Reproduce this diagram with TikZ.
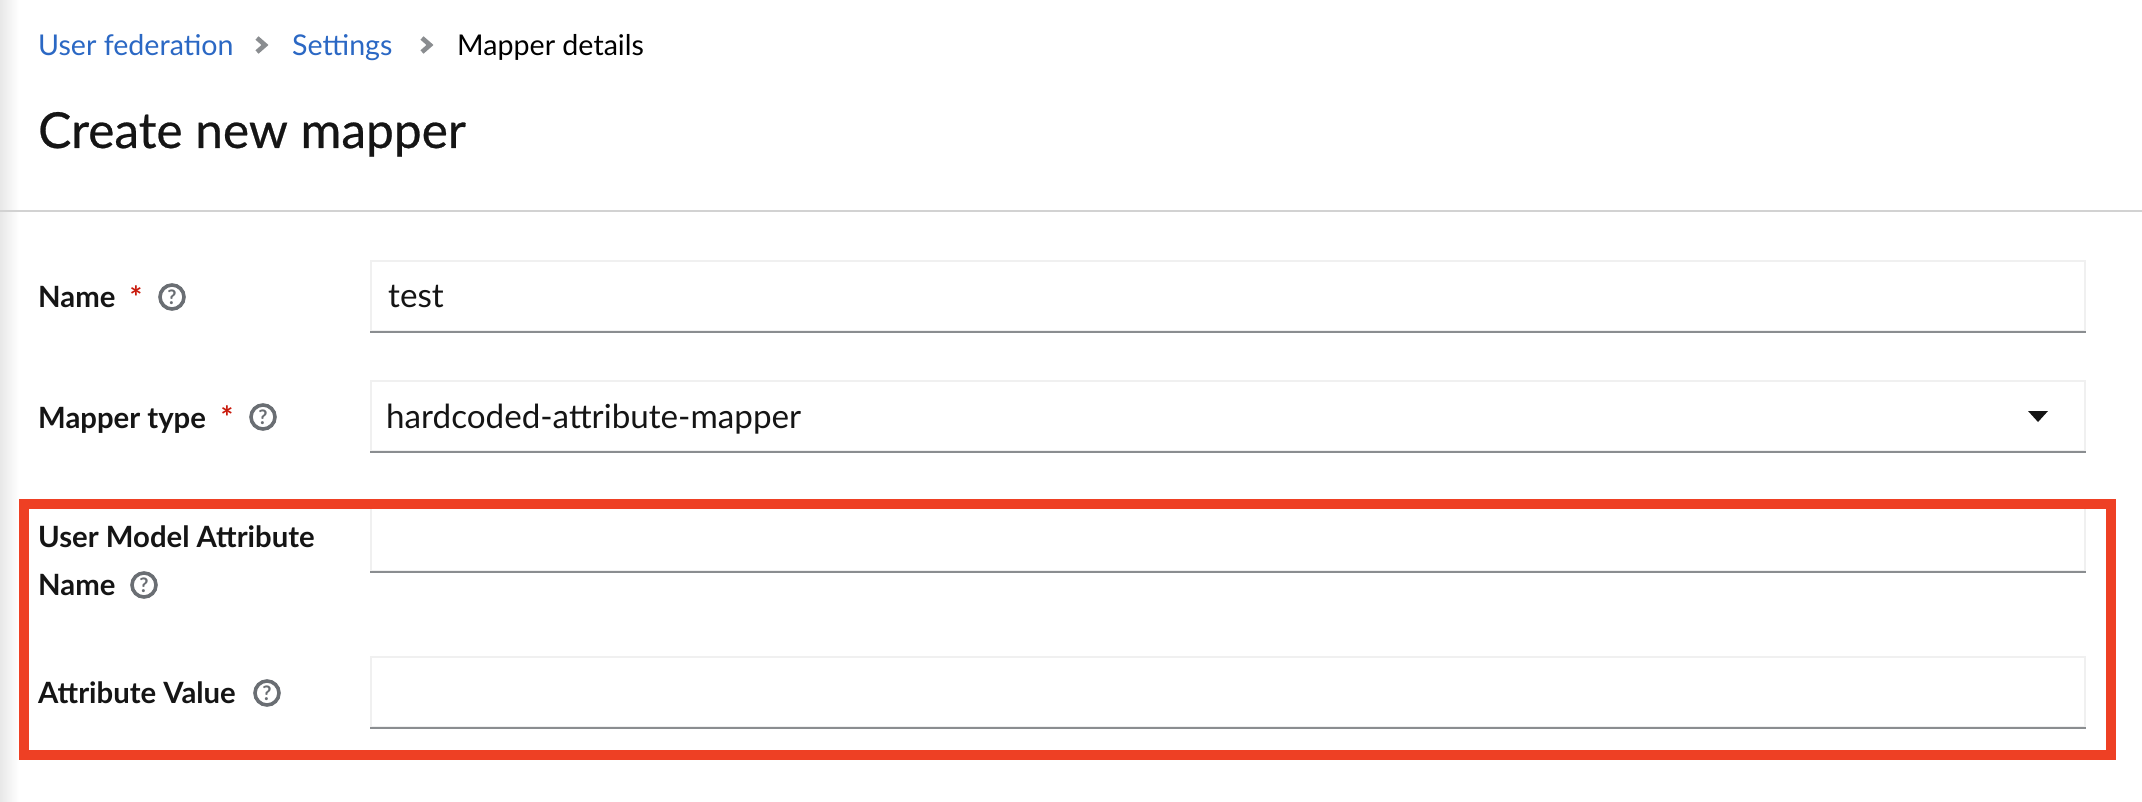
\documentclass[tikz,border=0pt]{standalone}
\usepackage{fontspec}
\setmainfont{Lato}
\newfontfamily\midfont[FakeBold=0.5]{Lato}
\definecolor{linkblue}{HTML}{2B68C4}
\definecolor{inkblack}{HTML}{151515}
\definecolor{chevgray}{HTML}{8A8D90}
\definecolor{hairgray}{HTML}{D2D2D2}
\definecolor{edgegray}{HTML}{F0F0F0}
\definecolor{linegray}{HTML}{8A8D90}
\definecolor{helpgray}{HTML}{6A6E73}
\definecolor{starred}{HTML}{C9190B}
\definecolor{markred}{HTML}{EE4024}
\tikzset{
	crumb/.style = {anchor = base west , inner sep = 0pt , font = \fontsize{28.6}{32}\selectfont},
	title/.style = {anchor = base west , inner sep = 0pt , text = inkblack , font = \fontsize{49.6}{56}\midfont},
	label/.style = {anchor = base west , inner sep = 0pt , text = inkblack , font = \fontsize{29.3}{32}\selectfont\bfseries},
	entry/.style = {anchor = base west , inner sep = 0pt , text = inkblack , font = \fontsize{33.2}{36}\selectfont},
	star/.style = {inner sep = 0pt , text = starred , font = \fontsize{30}{34}\selectfont\bfseries},
	help/.style = {circle , draw = helpgray , line width = 3.6pt , minimum size = 24pt , inner sep = 0pt , text = helpgray , font = \fontsize{20}{22}\selectfont\bfseries},
	fieldbox/.style = {rectangle , draw = edgegray , line width = 2pt , minimum width = 1714pt , minimum height = 70pt , anchor = north west , inner sep = 0pt},
	fieldline/.style = {draw = linegray , line width = 2.4pt},
	chevron/.style = {draw = chevgray , line width = 4.6pt},
}
\begin{document}
\begin{tikzpicture}[x = 1pt , y = -1pt]
	\useasboundingbox (0,0) rectangle (2142,802);
	\fill[white] (0,0) rectangle (2142,802);
	\shade[left color = black!9 , right color = white] (0,0) rectangle (19,802);
	\draw[hairgray , line width = 2pt] (0,211) -- (2142,211);

	\node[crumb , text = linkblue] (crumbuser) at (38,56) {User federation};
	\draw[chevron] (257,38) -- (265,45) -- (257,52);
	\node[crumb , text = linkblue] (crumbsettings) at (292,56) {Settings};
	\draw[chevron] (422,38) -- (430,45) -- (422,52);
	\node[crumb , text = black] (crumbdetails) at (457,56) {Mapper details};
	\node[title] (pagetitle) at (38,148) {Create new mapper};

	\node[fieldbox] (namefield) at (370,260) {};
	\node[fieldbox] (typefield) at (370,380) {};
	\node[fieldbox] (attrfield) at (370,500) {};
	\node[fieldbox] (valuefield) at (370,656) {};
	\foreach \f in {namefield,typefield,attrfield,valuefield}
		\draw[fieldline] (\f.south west) -- (\f.south east);

	\node[label] (namelabel) at (38,308) {Name};
	\node[star] (namestar) at (136,297) {*};
	\node[help] (namehelp) at (172,297) {?};
	\node[entry] (nametext) at (388,308) {test};

	\node[label] (typelabel) at (38,428) {Mapper type};
	\node[star] (typestar) at (227,417) {*};
	\node[help] (typehelp) at (263,417) {?};
	\node[entry] (typetext) at (386,428) {hardcoded-attribute-mapper};
	\fill[inkblack] (2028,411) -- (2048,411) -- (2038,422) -- cycle;

	\node[label] (attrlabel) at (38,547) {User Model Attribute};
	\node[label] (attrlabelb) at (38,595) {Name};
	\node[help] (attrhelp) at (144,585) {?};

	\node[label] (valuelabel) at (38,703) {Attribute Value};
	\node[help] (valuehelp) at (267,693) {?};

	\draw[markred , line width = 10pt] (24,504) rectangle (2111,755);
\end{tikzpicture}
\end{document}
